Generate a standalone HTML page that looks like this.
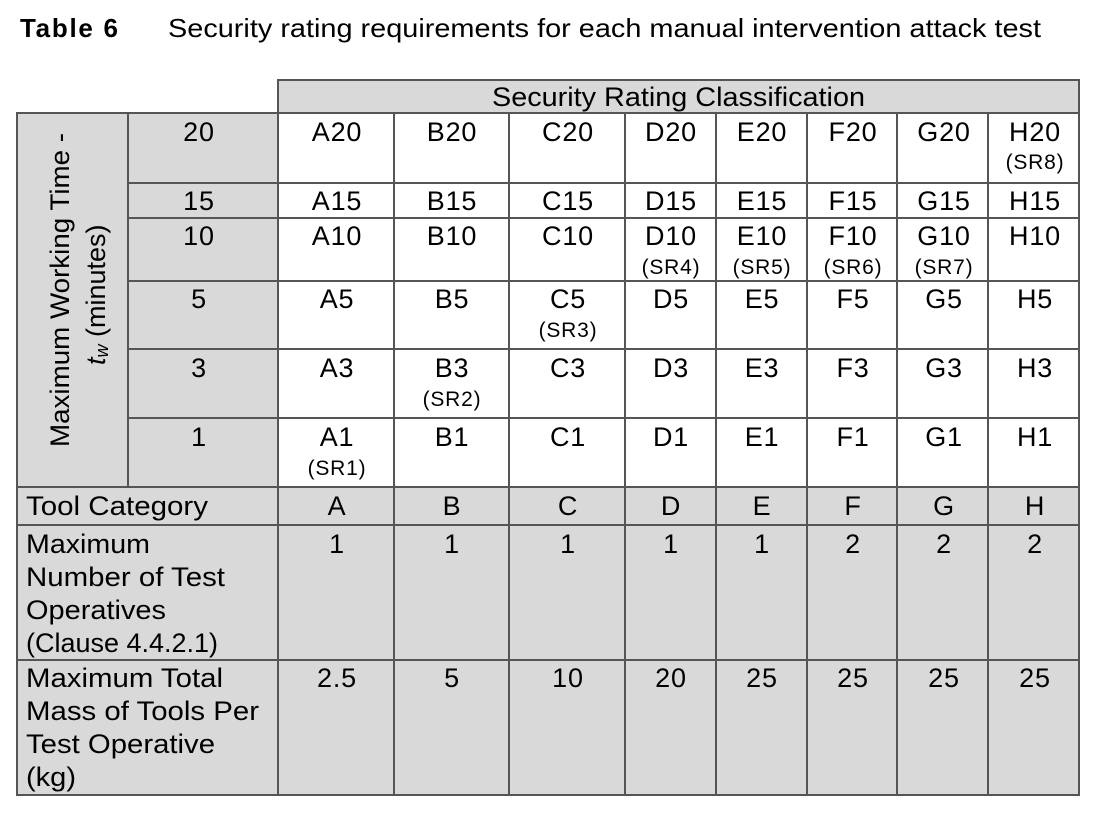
<!DOCTYPE html>
<html><head><meta charset="utf-8"><style>
html,body{margin:0;padding:0;background:#fff;}
svg text{font-family:"Liberation Sans",Arial,sans-serif;fill:#000;}
</style></head><body>
<svg width="1110" height="826" viewBox="0 0 1110 826" xmlns="http://www.w3.org/2000/svg">
<text x="20" y="37" font-size="26" font-weight="bold" textLength="98" lengthAdjust="spacing">Table 6</text>
<text x="168" y="37" font-size="26" textLength="873" lengthAdjust="spacingAndGlyphs">Security rating requirements for each manual intervention attack test</text>
<g fill="#d9d9d9">
<rect x="278" y="80" width="801" height="33"/>
<rect x="17" y="113" width="261" height="374"/>
<rect x="17" y="487" width="1062" height="308"/>
</g>
<g stroke="#555" stroke-width="2" fill="none">
<rect x="278" y="80" width="801" height="33"/>
<rect x="17" y="113" width="1062" height="682"/>
<line x1="128" y1="113" x2="128" y2="487"/>
<line x1="278" y1="113" x2="278" y2="795"/>
<line x1="128" y1="183" x2="1079" y2="183"/>
<line x1="128" y1="218" x2="1079" y2="218"/>
<line x1="128" y1="281" x2="1079" y2="281"/>
<line x1="128" y1="349" x2="1079" y2="349"/>
<line x1="128" y1="418" x2="1079" y2="418"/>
<line x1="17" y1="487" x2="1079" y2="487"/>
<line x1="17" y1="525" x2="1079" y2="525"/>
<line x1="17" y1="660" x2="1079" y2="660"/>
<line x1="394" y1="113" x2="394" y2="795"/>
<line x1="509" y1="113" x2="509" y2="795"/>
<line x1="625" y1="113" x2="625" y2="795"/>
<line x1="716" y1="113" x2="716" y2="795"/>
<line x1="807" y1="113" x2="807" y2="795"/>
<line x1="897" y1="113" x2="897" y2="795"/>
<line x1="988" y1="113" x2="988" y2="795"/>
</g>
<text x="492" y="106" font-size="27" textLength="373" lengthAdjust="spacingAndGlyphs">Security Rating Classification</text>
<text transform="translate(69,447) rotate(-90)" font-size="27" textLength="314" lengthAdjust="spacingAndGlyphs">Maximum Working Time -</text>
<text transform="translate(105,365) rotate(-90)" font-size="27"><tspan font-style="italic">t</tspan><tspan font-style="italic" font-size="18" dy="3">w</tspan><tspan dy="-3"> (minutes)</tspan></text>
<g font-size="27" text-anchor="middle" letter-spacing="0.8">
<text x="199" y="141">20</text><text x="199" y="210">15</text><text x="199" y="245">10</text><text x="199" y="308">5</text><text x="199" y="377">3</text><text x="199" y="446">1</text>
</g>
<g font-size="27" text-anchor="middle" letter-spacing="0.8">
<text x="337" y="141">A20</text><text x="452" y="141">B20</text><text x="568" y="141">C20</text><text x="671" y="141">D20</text><text x="762" y="141">E20</text><text x="853" y="141">F20</text><text x="944" y="141">G20</text><text x="1035" y="141">H20</text>
<text x="337" y="210">A15</text><text x="452" y="210">B15</text><text x="568" y="210">C15</text><text x="671" y="210">D15</text><text x="762" y="210">E15</text><text x="853" y="210">F15</text><text x="944" y="210">G15</text><text x="1035" y="210">H15</text>
<text x="337" y="245">A10</text><text x="452" y="245">B10</text><text x="568" y="245">C10</text><text x="671" y="245">D10</text><text x="762" y="245">E10</text><text x="853" y="245">F10</text><text x="944" y="245">G10</text><text x="1035" y="245">H10</text>
<text x="337" y="308">A5</text><text x="452" y="308">B5</text><text x="568" y="308">C5</text><text x="671" y="308">D5</text><text x="762" y="308">E5</text><text x="853" y="308">F5</text><text x="944" y="308">G5</text><text x="1035" y="308">H5</text>
<text x="337" y="377">A3</text><text x="452" y="377">B3</text><text x="568" y="377">C3</text><text x="671" y="377">D3</text><text x="762" y="377">E3</text><text x="853" y="377">F3</text><text x="944" y="377">G3</text><text x="1035" y="377">H3</text>
<text x="337" y="446">A1</text><text x="452" y="446">B1</text><text x="568" y="446">C1</text><text x="671" y="446">D1</text><text x="762" y="446">E1</text><text x="853" y="446">F1</text><text x="944" y="446">G1</text><text x="1035" y="446">H1</text>
<text x="337" y="515">A</text><text x="452" y="515">B</text><text x="568" y="515">C</text><text x="671" y="515">D</text><text x="762" y="515">E</text><text x="853" y="515">F</text><text x="944" y="515">G</text><text x="1035" y="515">H</text>
<text x="337" y="553">1</text><text x="452" y="553">1</text><text x="568" y="553">1</text><text x="671" y="553">1</text><text x="762" y="553">1</text><text x="853" y="553">2</text><text x="944" y="553">2</text><text x="1035" y="553">2</text>
<text x="337" y="687">2.5</text><text x="452" y="687">5</text><text x="568" y="687">10</text><text x="671" y="687">20</text><text x="762" y="687">25</text><text x="853" y="687">25</text><text x="944" y="687">25</text><text x="1035" y="687">25</text>
</g>
<g font-size="21" text-anchor="middle" letter-spacing="0.8">
<text x="1035" y="169">(SR8)</text>
<text x="671" y="274">(SR4)</text><text x="762" y="274">(SR5)</text><text x="853" y="274">(SR6)</text><text x="944" y="274">(SR7)</text>
<text x="568" y="337">(SR3)</text>
<text x="452" y="406">(SR2)</text>
<text x="337" y="475">(SR1)</text>
</g>
<g font-size="27">
<text x="26" y="515" textLength="182" lengthAdjust="spacingAndGlyphs">Tool Category</text>
<text x="26" y="553" textLength="124" lengthAdjust="spacingAndGlyphs">Maximum</text>
<text x="26" y="586" textLength="199" lengthAdjust="spacingAndGlyphs">Number of Test</text>
<text x="26" y="619" textLength="140" lengthAdjust="spacingAndGlyphs">Operatives</text>
<text x="26" y="652" textLength="192" lengthAdjust="spacingAndGlyphs">(Clause 4.4.2.1)</text>
<text x="26" y="687" textLength="197" lengthAdjust="spacingAndGlyphs">Maximum Total</text>
<text x="26" y="720" textLength="233" lengthAdjust="spacingAndGlyphs">Mass of Tools Per</text>
<text x="26" y="753" textLength="189" lengthAdjust="spacingAndGlyphs">Test Operative</text>
<text x="26" y="786" textLength="50" lengthAdjust="spacingAndGlyphs">(kg)</text>
</g>
</svg>
</body></html>
